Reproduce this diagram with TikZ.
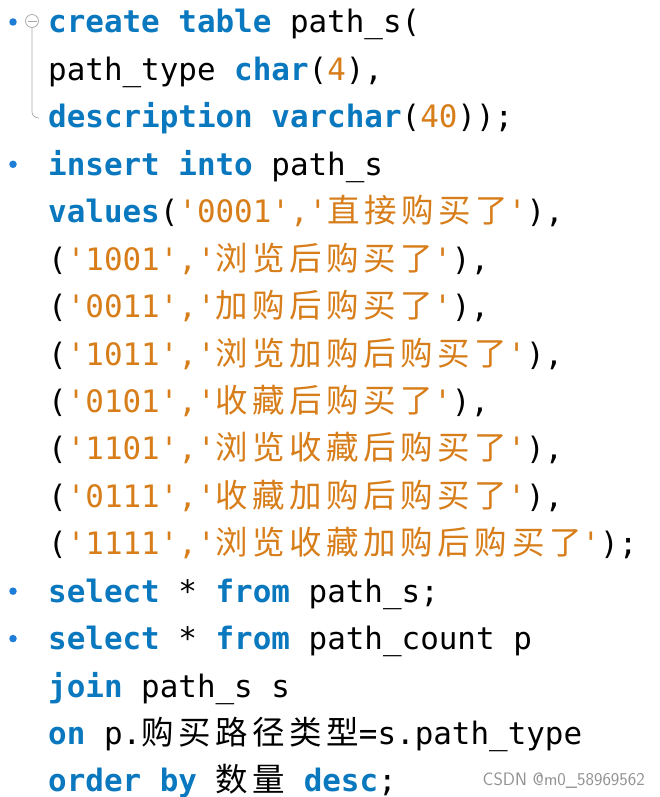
\documentclass[tikz,border=0pt]{standalone}
\usepackage{fontspec}
\setmonofont{DejaVu Sans Mono}
\newfontfamily\cjkf[LetterSpace=14]{Noto Sans CJK SC}
\definecolor{kw}{RGB}{10,120,190}
\definecolor{st}{RGB}{215,125,25}
\definecolor{bul}{RGB}{30,125,215}
\newcommand{\K}[1]{\textcolor{kw}{\bfseries #1}}
\newcommand{\Sx}[1]{\textcolor{st}{#1}}
\newcommand{\Z}[1]{{\fontsize{32.5}{32}\cjkf #1}}
\begin{document}
\begin{tikzpicture}[x=1pt,y=-1pt,
  code/.style={anchor=base west,inner sep=0pt,font=\fontsize{30.9}{31}\ttfamily},
  bulletdot/.style={circle,fill=bul,inner sep=0pt,minimum size=7.5pt}]
\useasboundingbox[fill=white] (0,0) rectangle (660,797);
\def\L#1#2{\node[code] (l#1) at (48,{33+47.43*(#1-1)}) {#2};}
\L{1}{\K{create table} path\_s(}
\L{2}{path\_type \K{char}(\Sx{4}),}
\L{3}{\K{description varchar}(\Sx{40}));}
\L{4}{\K{insert into} path\_s}
\L{5}{\K{values}(\Sx{'0001','\Z{直接购买了}'}),}
\L{6}{(\Sx{'1001','\Z{浏览后购买了}'}),}
\L{7}{(\Sx{'0011','\Z{加购后购买了}'}),}
\L{8}{(\Sx{'1011','\Z{浏览加购后购买了}'}),}
\L{9}{(\Sx{'0101','\Z{收藏后购买了}'}),}
\L{10}{(\Sx{'1101','\Z{浏览收藏后购买了}'}),}
\L{11}{(\Sx{'0111','\Z{收藏加购后购买了}'}),}
\L{12}{(\Sx{'1111','\Z{浏览收藏加购后购买了}'});}
\L{13}{\K{select} * \K{from} path\_s;}
\L{14}{\K{select} * \K{from} path\_count p}
\L{15}{\K{join} path\_s s}
\L{16}{\K{on} p.\Z{购买路径类型}=s.path\_type}
\L{17}{\K{order by} \Z{数量} \K{desc};}
\foreach \i in {1,4,13,14} \node[bulletdot] (b\i) at (13,{22+47.43*(\i-1)}) {};
\node[circle,draw=gray!70,line width=0.7pt,minimum size=13pt,inner sep=0pt] (fold) at (32,21) {};
\draw[gray!70,line width=0.9pt] (27.5,21) -- (36.5,21);
\draw[gray!70,line width=0.7pt] (fold.south) -- (32,112) to[out=-90,in=180] (39,118);
\node[anchor=base east,inner sep=0pt,text=gray!85,font=\fontsize{18}{18}\sffamily] (wm) at (645,785) {CSDN @m0\_58969562};
\end{tikzpicture}
\end{document}
